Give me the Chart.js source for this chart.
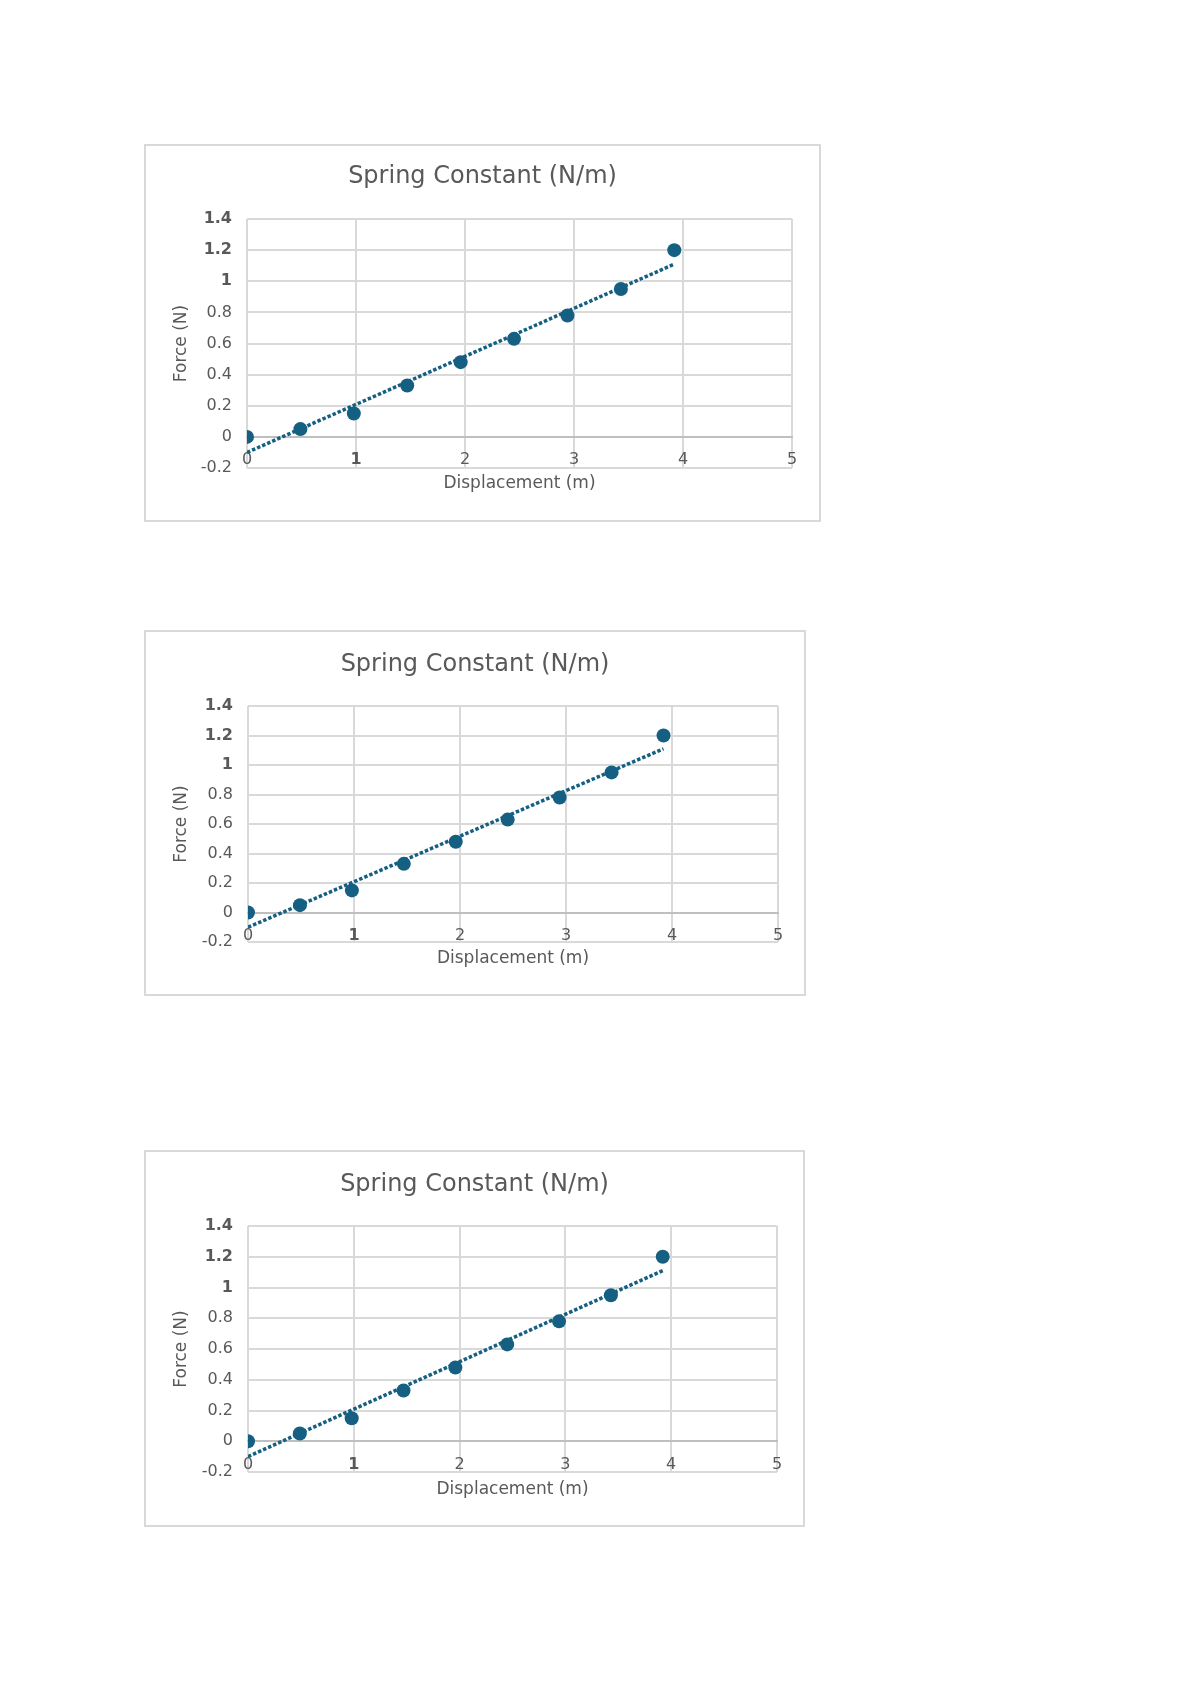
<!DOCTYPE html>
<html><head><meta charset="utf-8">
<script src="https://cdn.jsdelivr.net/npm/chart.js@4.4.1/dist/chart.umd.min.js"></script>
<style>
html,body{margin:0;padding:0;background:#fff;}
body{width:1200px;height:1696px;position:relative;overflow:hidden;}
.box{position:absolute;border:2px solid #d9d9d9;background:#fff;}
.box canvas{display:block;}
</style></head><body>
<div class="box" style="left:144px;top:144px;width:673px;height:374px"><canvas id="c1" width="673" height="374"></canvas></div>
<div class="box" style="left:144px;top:630px;width:658px;height:362px"><canvas id="c2" width="658" height="362"></canvas></div>
<div class="box" style="left:144px;top:1150px;width:657px;height:373px"><canvas id="c3" width="657" height="373"></canvas></div>
<script>
// ---- data ----
const displacement = [0, 0.49, 0.98, 1.47, 1.96, 2.45, 2.94, 3.43, 3.92];
const force        = [0, 0.05, 0.15, 0.33, 0.48, 0.63, 0.78, 0.95, 1.2];
const trendX = [0, 3.92];
const trendY = [-0.1, 1.11];
const xMin = 0, xMax = 5, xStep = 1;
const yMin = -0.2, yMax = 1.4, yStep = 0.2;
const chartTitle = 'Spring Constant (N/m)';
const xTitle = 'Displacement (m)';
const yTitle = 'Force (N)';

const FONT = '"DejaVu Sans", "Open Sans", sans-serif';
const TEXT = '#595959';
const GRID = '#d9d9d9';
const AXIS = '#bfbfbf';
const MARK = '#156082';
const TSIZE = 24, ASIZE = 17, KSIZE = 16;

function fmt(v) { return String(+Number(v).toFixed(1)); }

function build(id, L) {
  const pts = displacement.map((x, i) => ({x: x, y: force[i]}));
  const trend = trendX.map((x, i) => ({x: x, y: trendY[i]}));
  const tHalf = TSIZE * 1.2 / 2, aHalf = ASIZE * 1.2 / 2;
  new Chart(document.getElementById(id), {
    type: 'scatter',
    data: {
      datasets: [
        {data: pts, backgroundColor: MARK, borderColor: MARK, borderWidth: 0, pointRadius: 7, pointHoverRadius: 7, showLine: false, order: 2},
        {type: 'line', data: trend, borderColor: MARK, borderWidth: 3.5, borderDash: [3.5, 2], borderCapStyle: 'butt', pointRadius: 0, fill: false, order: 1}
      ]
    },
    options: {
      responsive: false,
      animation: false,
      events: [],
      layout: {padding: 0},
      plugins: {
        legend: {display: false},
        tooltip: {enabled: false},
        title: {
          display: true, text: chartTitle, color: TEXT,
          font: {family: FONT, size: TSIZE, weight: 'normal'},
          padding: {top: L.titleY - tHalf, bottom: L.plotTop - L.titleY - tHalf}
        }
      },
      scales: {
        x: {
          type: 'linear', position: {y: 0}, min: xMin, max: xMax,
          ticks: {stepSize: xStep, color: TEXT, padding: 13.5, callback: fmt,
            font: (c) => ({family: FONT, size: KSIZE, weight: (c.tick && c.tick.value === 1) ? 'bold' : 'normal'})},
          grid: {color: GRID, lineWidth: 2, drawTicks: false},
          border: {display: true, color: AXIS, width: 2}
        },
        xt: {
          type: 'linear', position: 'bottom', min: xMin, max: xMax,
          ticks: {display: false},
          grid: {display: false, drawTicks: false},
          border: {display: false},
          title: {display: true, text: xTitle, color: TEXT, font: {family: FONT, size: ASIZE}, padding: {top: 0, bottom: L.xTitleB - aHalf}},
          afterFit: (s) => { s.height = L.bottomGap; }
        },
        y: {
          type: 'linear', position: 'left', min: yMin, max: yMax,
          ticks: {stepSize: yStep, color: TEXT, padding: 15, callback: fmt,
            font: (c) => ({family: FONT, size: KSIZE, weight: (c.tick && c.tick.value >= 0.99) ? 'bold' : 'normal'})},
          grid: {lineWidth: 2, drawTicks: false, color: (c) => (c.tick && Math.abs(c.tick.value) < 1e-9) ? AXIS : GRID},
          border: {display: false},
          title: {display: true, text: yTitle, color: TEXT, font: {family: FONT, size: ASIZE}, padding: {top: 36 - aHalf, bottom: 0}},
          afterFit: (s) => { s.width = L.plotLeft; }
        },
        yr: {
          type: 'linear', position: 'right', min: yMin, max: yMax,
          ticks: {display: false},
          grid: {display: false, drawTicks: false},
          border: {display: false},
          afterFit: (s) => { s.width = L.rightGap; }
        }
      }
    }
  });
}

build('c1', {plotLeft: 101, plotTop: 73, rightGap: 27, bottomGap: 52, titleY: 30.4, xTitleB: 36.3});
build('c2', {plotLeft: 102, plotTop: 74, rightGap: 26, bottomGap: 52, titleY: 32.4, xTitleB: 35.3});
build('c3', {plotLeft: 102, plotTop: 74, rightGap: 26, bottomGap: 53, titleY: 32.9, xTitleB: 35});
</script>
</body></html>
